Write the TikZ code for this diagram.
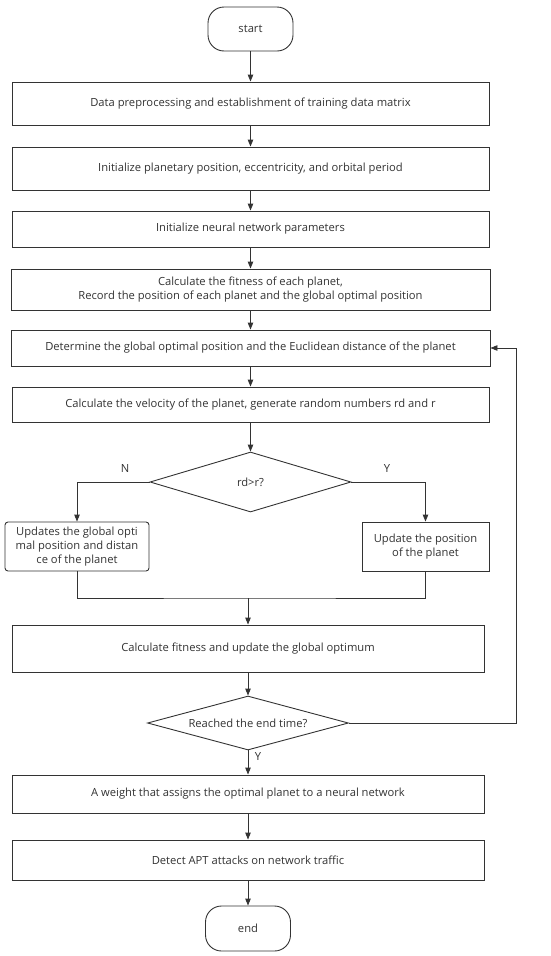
\documentclass[tikz,border=0pt]{standalone}
\usepackage{fontspec}
\setmainfont{Open Sans}
\usetikzlibrary{shapes.geometric,arrows.meta}
\definecolor{ink}{HTML}{333333}

\begin{document}
\begin{tikzpicture}[x=1pt,y=-1pt,
  line width=0.9pt, draw=ink, text=ink,
  font=\fontsize{11.2}{14.3}\selectfont,
  proc/.style={draw=ink, rectangle, align=center, inner sep=2pt},
  term/.style={draw=ink, rectangle, rounded corners=16pt, minimum width=85pt, minimum height=44pt},
  dec/.style={draw=ink, diamond, inner sep=0pt, minimum width=201pt, aspect=3.6},
  arr/.style={draw=ink, -{Triangle[length=7pt,width=5.5pt]}},
  lbl/.style={font=\fontsize{11.2}{13}\selectfont}]

\useasboundingbox (0,0) rectangle (550,956);

\node[term] (start) at (250.5,29) {start};
\node[proc, minimum width=477pt, minimum height=43pt] (prep) at (250.5,103.5) {Data preprocessing and establishment of training data matrix};
\node[proc, minimum width=477pt, minimum height=43pt] (initp) at (250.5,168.5) {Initialize planetary position, eccentricity, and orbital period};
\node[proc, minimum width=477pt, minimum height=36pt] (initn) at (250.5,229) {Initialize neural network parameters};
\node[proc, minimum width=479pt, minimum height=41pt] (fit) at (250.5,289.5) {Calculate the fitness of each planet,\\Record the position of each planet and the global optimal position};
\node[proc, minimum width=479pt, minimum height=36pt] (dist) at (250.5,348) {Determine the global optimal position and the Euclidean distance of the planet};
\node[proc, minimum width=477pt, minimum height=35pt] (vel) at (250.5,404.5) {Calculate the velocity of the planet, generate random numbers rd and r};
\node[dec, minimum height=60pt] (rd) at (250.5,482) {rd>r?};
\node[proc, rounded corners=3pt, minimum width=144pt, minimum height=49pt] (upg) at (77,546.5) {Updates the global opti\\mal position and distan\\ce of the planet};
\node[proc, minimum width=127pt, minimum height=49pt] (upp) at (425.5,546.5) {Update the position\\of the planet};
\node[proc, minimum width=472pt, minimum height=47pt] (calc) at (248,648.5) {Calculate fitness and update the global optimum};
\node[dec, minimum height=54pt] (endt) at (248,723) {Reached the end time?};
\node[proc, minimum width=472pt, minimum height=38pt] (wgt) at (248,794) {A weight that assigns the optimal planet to a neural network};
\node[proc, minimum width=472pt, minimum height=40pt] (apt) at (248,860) {Detect APT attacks on network traffic};
\node[term, minimum height=45pt] (end) at (248,928.5) {end};

\coordinate (mrg) at (248,598);
\coordinate (back) at (516,723);

\draw[arr] (start) -- (prep);
\draw[arr] (prep) -- (initp);
\draw[arr] (initp) -- (initn);
\draw[arr] (initn) -- (fit);
\draw[arr] (fit) -- (dist);
\draw[arr] (dist) -- (vel);
\draw[arr] (vel) -- (rd);
\draw[arr] (rd.west) -| (upg.north);
\draw[arr] (rd.east) -| (upp.north);
\node[lbl] (no) at (125,468) {N};
\node[lbl] (yes) at (387,468) {Y};
\draw (upg.south) |- (mrg) -| (upp.south);
\draw[arr] (mrg) -- (calc);
\draw[arr] (calc) -- (endt);
\draw[arr] (endt) -- (wgt);
\node[lbl] (yes2) at (258,756) {Y};
\draw[arr] (endt.east) -- (back) |- (dist.east);
\draw[arr] (wgt) -- (apt);
\draw[arr] (apt) -- (end);

\end{tikzpicture}
\end{document}
